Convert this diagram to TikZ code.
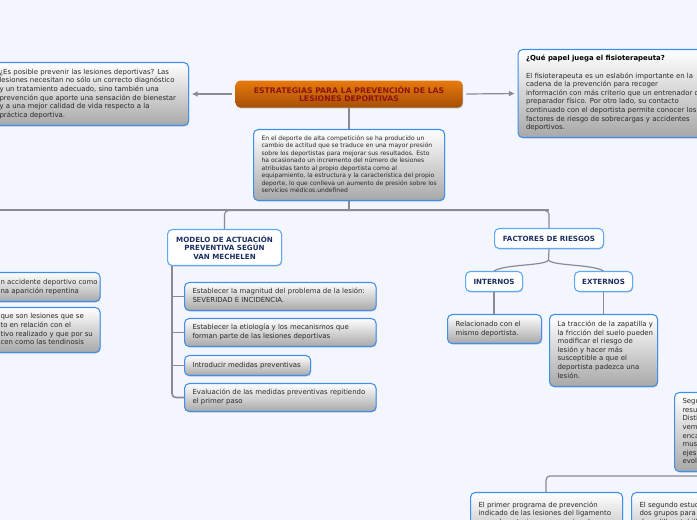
\documentclass[tikz,border=0pt]{standalone}
\usepackage{fontspec}
\setmainfont{DejaVu Sans}
\usetikzlibrary{arrows.meta,shadows}
\definecolor{pagebg}{HTML}{F3F6FF}
\definecolor{edgeblue}{HTML}{3F8FEA}
\definecolor{lightblue}{HTML}{5FA8F2}
\definecolor{linegray}{HTML}{8A8A94}
\definecolor{boxgray}{HTML}{A8A8A8}
\definecolor{bodytext}{HTML}{2A2A2A}
\definecolor{headnavy}{HTML}{1C2F63}
\definecolor{rootdark}{HTML}{A64F06}
\definecolor{roottop}{HTML}{E87A0C}
\definecolor{rootred}{HTML}{8E1410}
\tikzset{
  basebox/.style={draw=edgeblue,line width=0.8pt,rounded corners=3.5pt,inner sep=0pt,
    drop shadow={shadow xshift=0.5pt,shadow yshift=-0.6pt,opacity=0.25,fill=black},
    font=\fontsize{5.2}{6.45}\selectfont,text=bodytext},
  graybox/.style={basebox,top color=white,bottom color=boxgray},
  smallbox/.style={graybox,font=\fontsize{4.55}{5.58}\selectfont},
  headbox/.style={basebox,draw=lightblue,fill=white,text=headnavy,align=center,
    font=\fontsize{5.35}{6.45}\selectfont\bfseries},
  rootbox/.style={basebox,draw=none,top color=roottop,bottom color=rootdark,text=rootred,align=center,
    font=\fontsize{5.8}{6.6}\selectfont\bfseries},
  link/.style={draw=linegray,line width=0.9pt,rounded corners=3pt},
  thicklink/.style={link,line width=1.5pt},
  arrowlink/.style={link,-{Latex[length=4.5pt,width=4.5pt]},shorten >=2pt,shorten <=2.5pt}
}
% centred heading box
\newcommand{\bx}[6]{%
  \pgfmathsetlengthmacro{\bw}{0.75pt*#4}%
  \pgfmathsetlengthmacro{\bh}{0.75pt*#5}%
  \node[#1,minimum width=\bw,minimum height=\bh,anchor=north west] (#2) at #3 {#6};}
% left-aligned text box, text starts 8px from the left border
\newcommand{\tx}[6]{%
  \pgfmathsetlengthmacro{\bw}{0.75pt*#4}%
  \pgfmathsetlengthmacro{\bh}{0.75pt*#5}%
  \node[#1,minimum width=\bw,minimum height=\bh,anchor=north west] (#2) at #3
    {\makebox[\bw][l]{\hspace*{6pt}\begin{tabular}{@{}l@{}}#6\end{tabular}}};}
\begin{document}
\begin{tikzpicture}[x=0.75pt,y=-0.75pt]
\useasboundingbox (0,0) rectangle (697,520);
\clip (0,0) rectangle (697,520);
\fill[pagebg] (0,0) rectangle (697,520);
% nodes
\bx{rootbox}{root}{(235,80)}{227}{27}{ESTRATEGIAS PARA LA PREVENCIÓN DE LAS\\LESIONES DEPORTIVAS}
\tx{graybox}{askA}{(-9,62)}{197}{63}{¿Es posible prevenir las lesiones deportivas? Las\\lesiones necesitan no sólo un correcto diagnóstico\\y un tratamiento adecuado, sino también una\\prevención que aporte una sensación de bienestar\\y a una mejor calidad de vida respecto a la\\práctica deportiva.}
\tx{graybox}{askQ}{(517.5,49)}{200}{88}{\textbf{\textcolor{black}{¿Qué papel juega el fisioterapeuta?}}\\[6.4pt]El fisioterapeuta es un eslabón importante en la\\cadena de la prevención para recoger\\información con más criterio que un entrenador o\\preparador físico. Por otro lado, su contacto\\continuado con el deportista permite conocer los\\factores de riesgo de sobrecargas y accidentes\\deportivos.}
\tx{smallbox}{intro}{(253,129)}{191}{71}{En el deporte de alta competición se ha producido un\\cambio de actitud que se traduce en una mayor presión\\sobre los deportistas para mejorar sus resultados. Esto\\ha ocasionado un incremento del número de lesiones\\atribuidas tanto al propio deportista como al\\equipamiento, la estructura y la característica del propio\\deporte, lo que conlleva un aumento de presión sobre los\\servicios médicos.undefined}
\bx{headbox}{modelo}{(167,229)}{114}{36}{MODELO DE ACTUACIÓN\\PREVENTIVA SEGÚN\\VAN MECHELEN}
\tx{graybox}{itemA}{(184,282)}{191.5}{28}{Establecer la magnitud del problema de la lesión:\\SEVERIDAD E INCIDENCIA.}
\tx{graybox}{itemB}{(184,318)}{191.5}{28}{Establecer la etiología y los mecanismos que\\forman parte de las lesiones deportivas}
\tx{graybox}{itemC}{(184,355)}{126}{20}{Introducir medidas preventivas}
\tx{graybox}{itemD}{(184,383)}{191.5}{28}{Evaluación de las medidas preventivas repitiendo\\el primer paso}
\tx{graybox}{leftA}{(-8,272)}{107.5}{29}{n accidente deportivo como\\na aparición repentina}
\tx{graybox}{leftB}{(-8,307)}{107.5}{45}{que son lesiones que se\\to en relación con el\\tivo realizado y que por su\\cen como las tendinosis}
\bx{headbox}{factores}{(494,228)}{109}{20}{FACTORES DE RIESGOS}
\bx{headbox}{internos}{(465,271)}{57}{20}{INTERNOS}
\bx{headbox}{externos}{(574,271)}{58}{20}{EXTERNOS}
\tx{graybox}{relac}{(447,314)}{94}{29}{Relacionado con el\\mismo deportista.}
\tx{graybox}{tracc}{(549,314)}{108}{72}{La tracción de la zapatilla y\\la fricción del suelo pueden\\modificar el riesgo de\\lesión y hacer más\\susceptible a que el\\deportista padezca una\\lesión.}
\tx{graybox}{segun}{(674,392)}{60}{79}{Segu\\resu\\Disti\\vem\\enca\\mus\\ejes\\evol}
\tx{graybox}{primer}{(470,492)}{152}{60}{El primer programa de prevención\\indicado de las lesiones del ligamento\\cruzado anterior en un equipo de\\\ \\\ }
\tx{graybox}{segundo}{(631,492)}{120}{60}{El segundo estudio\\dos grupos para\\de rodilla y tobillo\\\ \\\ }
% free ends
\coordinate (trunkL) at (-2,210.5);
\coordinate (trunkMid) at (intro.south |- trunkL);
\coordinate (busR) at (700,476);
\coordinate (factFork) at (548.5,260);
\coordinate (modFoot) at (172,270);
% connectors
\draw[arrowlink] (root.west) -- (askA.east);
\draw[arrowlink] (root.east) -- (askQ.west);
\draw[link] (root.south) -- (intro.north);
\draw[thicklink] (intro.south) -- (trunkMid);
\draw[thicklink] (trunkMid) -- (trunkL);
\draw[thicklink] (trunkMid) -- (factores.north |- trunkMid);
\draw[link] (trunkMid) -| (modelo.north);
\draw[link] (trunkMid) -| (factores.north);
\draw[link] (factores.south) -- (factFork);
\draw[link,rounded corners=0pt] (factFork) .. controls (545,266) and (505,264) .. (internos.north);
\draw[link,rounded corners=0pt] (factFork) .. controls (552,266) and (592,264) .. (externos.north);
\draw[thicklink,line width=1.2pt] (internos.south) -- (internos.south |- relac.north);
\draw[thicklink,line width=1.2pt] (externos.south) -- (externos.south |- tracc.north);
\draw[thicklink,line width=1.2pt] (modFoot |- modelo.south) |- (itemD.west);
\draw[link] (modFoot |- itemA.west) -- (itemA.west);
\draw[link] (modFoot |- itemB.west) -- (itemB.west);
\draw[link] (modFoot |- itemC.west) -- (itemC.west);
\draw[link] (busR) -| (primer.north -| 546,476);
\end{tikzpicture}
\end{document}
